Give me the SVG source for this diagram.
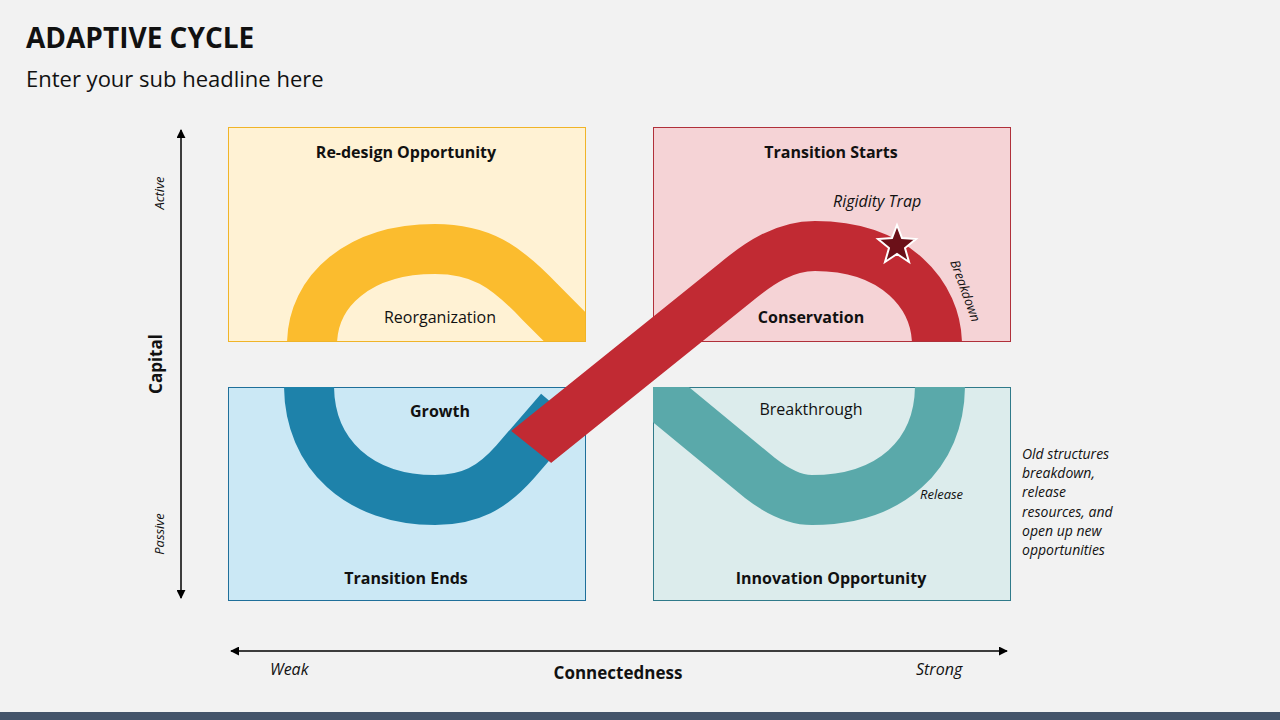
<svg xmlns="http://www.w3.org/2000/svg" width="1280" height="720" viewBox="0 0 1280 720">
<style>
text{font-family:"Open Sans","Liberation Sans",sans-serif;fill:#111}
.b{font-weight:bold;font-size:16px;text-anchor:middle}
.n{font-size:16px;text-anchor:middle}
.i{font-style:italic;font-size:14px}
.band{fill:none;stroke-width:50;stroke-linecap:butt;stroke-linejoin:round}
</style>
<defs>
<clipPath id="cy"><rect x="228" y="127" width="357" height="214"/></clipPath>
<clipPath id="cb"><rect x="228" y="387" width="357" height="213"/></clipPath>
<clipPath id="ct"><rect x="653" y="387" width="357" height="213"/></clipPath>
<clipPath id="cr"><rect x="400" y="127" width="610" height="214"/><polygon points="400,341 760,341 560,470 510,430"/></clipPath>
<marker id="ar" viewBox="0 0 10 10" refX="9" refY="5" markerWidth="6" markerHeight="6" orient="auto-start-reverse"><path d="M0,0 L10,5 L0,10 z" fill="#000"/></marker>
</defs>
<rect width="1280" height="720" fill="#f2f2f2"/>
<rect x="0" y="712" width="1280" height="8" fill="#44546a"/>
<text x="26" y="48" style="font-size:28px;font-weight:bold">ADAPTIVE CYCLE</text>
<text x="26" y="87" style="font-size:22px">Enter your sub headline here</text>

<g id="q1"><rect x="228.5" y="127.5" width="357" height="214" fill="#fff2d4" stroke="#f0b428"/>
<path class="band" clip-path="url(#cy)" stroke="#fbbc2e" d="M312,345 C312,290 360,249 435,249 C480,249 505,265 540,302 L600,362"/>
<text class="b" x="406" y="158">Re-design Opportunity</text>
<text class="n" x="440" y="323">Reorganization</text></g>

<g id="q2"><rect x="653.5" y="127.5" width="357" height="214" fill="#f5d3d6" stroke="#b0303a"/>
<text class="b" x="831" y="158">Transition  Starts</text></g>

<g id="q3"><rect x="228.5" y="387.5" width="357" height="213" fill="#cbe8f5" stroke="#1f6f9a"/>
<path class="band" clip-path="url(#cb)" stroke="#1e82aa" d="M309,385 C309,455 360,500 435,500 C470,500 492,488 515,462 L560,410"/>
<text class="b" x="440" y="417">Growth</text>
<text class="b" x="406" y="584">Transition  Ends</text></g>

<g id="q4"><rect x="653.5" y="387.5" width="357" height="213" fill="#dcecec" stroke="#2f7a8a"/>
<path class="band" clip-path="url(#ct)" stroke="#5aa9aa" d="M635,375 L760,478 C778,492 795,500 812,500 C890,500 940,455 940,385"/>
<text class="n" x="811" y="415">Breakthrough</text>
<text class="i" x="920" y="499" style="font-size:13px">Release</text>
<text class="b" x="831" y="584">Innovation  Opportunity</text></g>

<g id="red">
<path class="band" clip-path="url(#cr)" stroke="#c12a33" d="M490,480 L735,283 C760,262 785,246 815,246 C895,246 937,295 937,345"/>
<polygon points="897,225 902,238 916,239 905,248 909,262 897,254 885,262 889,248 878,239 892,238" fill="#6b1018" stroke="#fff" stroke-width="2"/>
<text class="b" x="811" y="323">Conservation</text>
<text class="i" x="833" y="207" style="font-size:16px">Rigidity Trap</text>
<text class="i" x="0" y="0" transform="translate(950,262) rotate(70)" style="font-size:13px">Breakdown</text>
</g>

<g id="connectors">
<line x1="181" y1="598" x2="181" y2="130" stroke="#000" stroke-width="1.5" marker-start="url(#ar)" marker-end="url(#ar)"/>
<line x1="231" y1="651" x2="1007" y2="651" stroke="#000" stroke-width="1.5" marker-start="url(#ar)" marker-end="url(#ar)"/>
</g>
<text class="i" transform="translate(164,193) rotate(-90)" text-anchor="middle" style="font-size:13px">Active</text>
<text class="i" transform="translate(164,534) rotate(-90)" text-anchor="middle" style="font-size:13px">Passive</text>
<text class="b" transform="translate(162,364) rotate(-90)" style="font-size:17px">Capital</text>
<text class="i" x="270" y="675" style="font-size:16px">Weak</text>
<text class="i" x="916" y="675" style="font-size:16px">Strong</text>
<text class="b" x="618" y="679" style="font-size:17px">Connectedness</text>
<g class="i" style="font-size:13px"><text x="1022" y="459" class="i">Old structures</text><text x="1022" y="478" class="i">breakdown,</text><text x="1022" y="497" class="i">release</text><text x="1022" y="517" class="i">resources, and</text><text x="1022" y="536" class="i">open up new</text><text x="1022" y="555" class="i">opportunities</text></g>
</svg>
